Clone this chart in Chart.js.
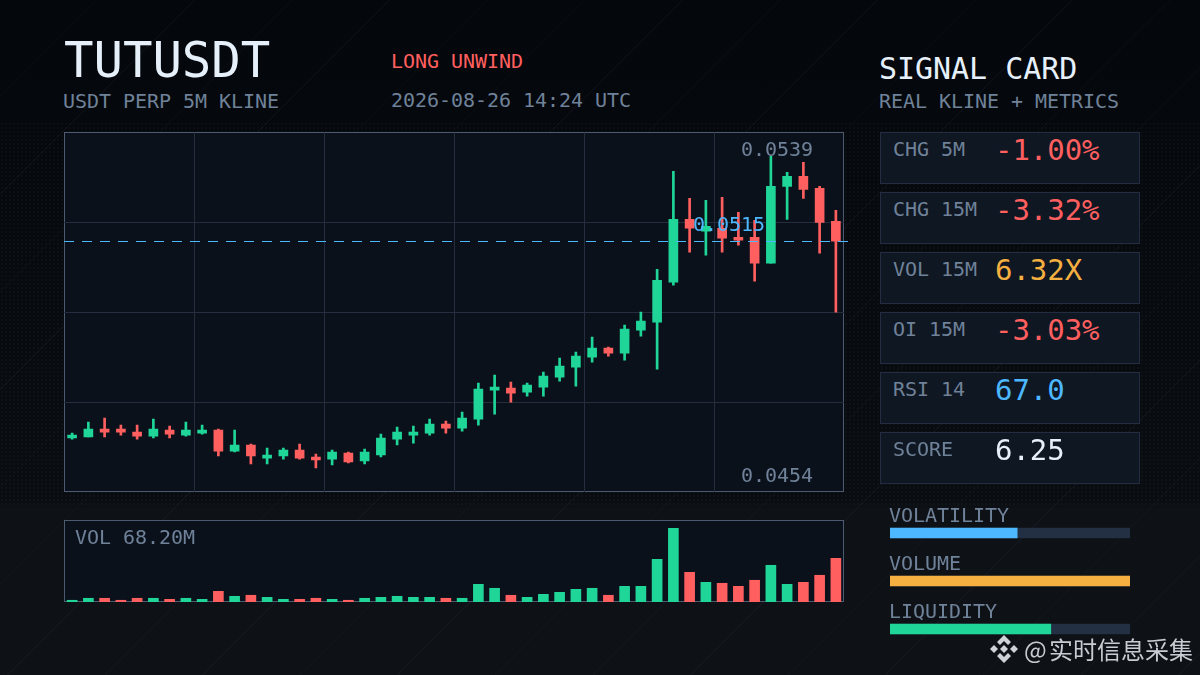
<!DOCTYPE html>
<html>
<head>
<meta charset="utf-8">
<title>TUTUSDT</title>
<script src="https://cdn.jsdelivr.net/npm/chart.js@4"></script>
<style>
  html, body { margin: 0; padding: 0; }
  body { width: 1200px; height: 675px; overflow: hidden; position: relative;
    background: linear-gradient(#04070c 0, #05080d 120px, #090d12 500px, #0e1116 510px, #0e1116 100%); }
  .layer { position: absolute; left: 0; width: 1200px; pointer-events: none; }
  #lines { top: 0; height: 675px;
    background: repeating-linear-gradient(135deg, transparent 0 68px, rgba(150,170,200,.04) 68px 69px); }
  #dots { top: 122px; height: 384px;
    background-image: radial-gradient(rgba(255,255,255,.025) 0.8px, transparent 1px);
    background-size: 4px 4px; }
  .t { position: absolute; font-family: "DejaVu Sans Mono", monospace; white-space: pre; line-height: 1;
    font-size: 20px; letter-spacing: -0.04px; color: #6f8299; z-index: 5; }
  .panel { position: absolute; box-sizing: border-box; background: #0b111b; border: 1px solid #4d5b70; }
  canvas { position: absolute; z-index: 3; }
  .card { position: absolute; left: 880px; width: 260px; height: 52px; box-sizing: border-box;
    background: #0f1722; border: 1px solid #222d3f; }
</style>
</head>
<body>
<div class="layer" id="lines"></div>
<div class="layer" id="dots"></div>

<div class="t" style="left:64px;top:36px;font-size:49px;color:#e6f0fa">TUTUSDT</div>
<div class="t" style="left:63px;top:91px">USDT PERP 5M KLINE</div>
<div class="t" style="left:391px;top:51px;color:#ff5f5f">LONG UNWIND</div>
<div class="t" style="left:391px;top:90px">2026-08-26 14:24 UTC</div>
<div class="t" style="left:879px;top:54px;font-size:30px;color:#e6f0fa">SIGNAL CARD</div>
<div class="t" style="left:879px;top:91px">REAL KLINE + METRICS</div>

<div class="panel" style="left:64px;top:132px;width:780px;height:360px"></div>
<canvas id="priceChart" width="800" height="360" style="left:56px;top:132px;width:800px;height:360px"></canvas>
<div class="t" style="left:741px;top:139px">0.0539</div>
<div class="t" style="left:741px;top:465px">0.0454</div>
<div class="t" style="left:693px;top:214px;color:#4db8ff">0.0515</div>

<div class="panel" style="left:64px;top:520px;width:780px;height:82px"></div>
<canvas id="volChart" width="780" height="82" style="left:64px;top:520px;width:780px;height:82px"></canvas>
<div class="t" style="left:75px;top:527px">VOL 68.20M</div>

<div id="cards"></div>
<canvas id="meterChart" width="240" height="144" style="left:890px;top:509px;width:240px;height:144px"></canvas>
<div id="meterLabels"></div>

<svg style="position:absolute;left:989px;top:634px;z-index:6" width="30" height="30" viewBox="0 0 30 30" fill="#cfd3d8">
  <path d="M15 1l7 7-3 3-4-4-4 4-3-3z"/>
  <path d="M15 29l-7-7 3-3 4 4 4-4 3 3z"/>
  <path d="M5 11l4 4-4 4-4-4z"/>
  <path d="M25 11l4 4-4 4-4-4z"/>
  <path d="M15 11l4 4-4 4-4-4z"/>
</svg>
<div class="t" style="left:1024px;top:637px;font-family:'Noto Sans CJK SC';font-size:24px;color:#c8ccd2;z-index:6">@</div>
<div class="t" style="left:1049px;top:637px;font-family:'Noto Sans CJK SC';font-size:24px;letter-spacing:0;color:#c8ccd2;z-index:6">实时信息采集</div>

<script>
// candles
const openPrice = [0.046235,0.046262,0.046478,0.046478,0.046397,0.046289,0.046451,0.046316,0.046370,0.046451,0.045882,0.046045,
  0.045692,0.045747,0.045909,0.045720,0.045665,0.045828,0.045611,0.045774,0.046207,0.046316,0.046370,0.046614,
  0.046505,0.046749,0.047535,0.047590,0.047481,0.047617,0.047888,0.048159,0.048430,0.048674,0.048538,0.049161,
  0.049378,0.050462,0.052169,0.051844,0.051926,0.051682,0.051682,0.050977,0.053064,0.053335,0.053010,0.052115];
const closePrice = [0.046316,0.046478,0.046397,0.046397,0.046289,0.046478,0.046343,0.046451,0.046451,0.045882,0.046045,0.045747,
  0.045774,0.045909,0.045692,0.045638,0.045855,0.045584,0.045855,0.046235,0.046397,0.046397,0.046614,0.046505,
  0.046777,0.047562,0.047617,0.047454,0.047671,0.047915,0.048186,0.048457,0.048674,0.048538,0.049188,0.049405,
  0.050516,0.052169,0.051926,0.051980,0.051655,0.051600,0.050977,0.053064,0.053335,0.052982,0.052088,0.051573];
const highPrice = [0.046370,0.046668,0.046777,0.046587,0.046587,0.046749,0.046560,0.046668,0.046587,0.046478,0.046451,0.046072,
  0.045964,0.045964,0.046072,0.045801,0.045909,0.045855,0.045936,0.046343,0.046533,0.046560,0.046749,0.046695,
  0.046939,0.047725,0.047942,0.047752,0.047725,0.048023,0.048403,0.048565,0.048972,0.048701,0.049297,0.049649,
  0.050814,0.053470,0.052739,0.052684,0.052766,0.052359,0.052142,0.053877,0.053443,0.053714,0.053064,0.052413];
const lowPrice = [0.046207,0.046262,0.046262,0.046316,0.046207,0.046235,0.046235,0.046289,0.046343,0.045747,0.045855,0.045530,
  0.045530,0.045665,0.045665,0.045421,0.045503,0.045557,0.045530,0.045720,0.046045,0.046099,0.046316,0.046370,
  0.046424,0.046587,0.046885,0.047210,0.047373,0.047373,0.047779,0.047644,0.048294,0.048457,0.048348,0.048999,
  0.048104,0.050381,0.051275,0.051194,0.051275,0.051465,0.050489,0.050977,0.052169,0.052739,0.051248,0.049649];
// volume in millions
const volume = [2.7,5.8,5.8,2.7,5.8,5.8,4.2,5.8,4.2,16.7,8.9,10.5,
  7.3,4.2,4.2,5.8,4.2,2.7,5.8,7.3,8.9,7.3,7.3,5.8,
  5.8,27.6,21.4,10.5,7.3,12,15.1,19.8,21.4,10.5,24.5,24.5,
  66.6,115,46.3,30.7,29.2,24.5,33.9,57.3,27.6,30.7,41.7,68.2];
const lastPrice = 0.051573;

const cardLabels = ['CHG 5M', 'CHG 15M', 'VOL 15M', 'OI 15M', 'RSI 14', 'SCORE'];
const cardValues = ['-1.00%', '-3.32%', '6.32X', '-3.03%', '67.0', '6.25'];
const cardColors = ['#ff5f5f', '#ff5f5f', '#f5b041', '#ff5f5f', '#4db8ff', '#e6f0fa'];

const meterLabels = ['VOLATILITY', 'VOLUME', 'LIQUIDITY'];
const meterValues = [0.53, 1, 0.67];
const meterColors = ['#4db8ff', '#f5b041', '#1fd698'];

const GREEN = '#1fd698';
const RED = '#ff5f5f';
const GRID = '#252e3f';

const categories = openPrice.map((_, i) => i + 1);
const candleColors = closePrice.map((c, i) => c >= openPrice[i] ? GREEN : RED);

Chart.defaults.animation = false;
Chart.defaults.devicePixelRatio = 1;

// cards + meter captions
const cardsBox = document.getElementById('cards');
cardLabels.forEach((label, i) => {
  const top = 132 + i * 60;
  cardsBox.innerHTML += `<div class="card" style="top:${top}px"></div>
    <div class="t" style="left:893px;top:${top + 7}px">${label}</div>
    <div class="t" style="left:995px;top:${top + 4}px;font-size:29px;color:${cardColors[i]}">${cardValues[i]}</div>`;
});
document.getElementById('meterLabels').innerHTML = meterLabels.map((label, i) =>
  `<div class="t" style="left:889px;top:${505 + i * 48}px">${label}</div>`).join('');

// dashed last price line, sits above the candles
const lastPriceLine = {
  id: 'lastPriceLine',
  afterDatasetsDraw(chart) {
    const y = Math.round(chart.scales.y.getPixelForValue(lastPrice)) + 0.5;
    const c = chart.ctx;
    c.save();
    c.strokeStyle = '#4db8ff';
    c.lineWidth = 1;
    c.setLineDash([10, 8]);
    c.beginPath();
    c.moveTo(chart.chartArea.left, y);
    c.lineTo(chart.chartArea.right + 4, y);
    c.stroke();
    c.restore();
  }
};

new Chart(document.getElementById('priceChart'), {
  type: 'bar',
  data: {
    labels: categories,
    datasets: [
      { label: 'wick', data: lowPrice.map((l, i) => [l, highPrice[i]]), backgroundColor: candleColors,
        barThickness: 2, grouped: false, borderWidth: 0, order: 2 },
      { label: 'body', data: openPrice.map((o, i) => [o, closePrice[i]]), backgroundColor: candleColors,
        barThickness: 9, grouped: false, borderWidth: 0, order: 1 }
    ]
  },
  options: {
    responsive: false,
    layout: { padding: { left: 8, right: 12, top: 0.4, bottom: 0 } },
    plugins: { legend: { display: false }, tooltip: { enabled: false } },
    scales: {
      x: { type: 'category', offset: true, display: false },
      gx: { axis: 'x', type: 'linear', min: 0, max: 48, position: 'bottom', offset: false,
        ticks: { display: false, stepSize: 8 },
        border: { display: false },
        grid: { offset: false, drawTicks: false, color: c => (c.index > 0 && c.index < 6) ? GRID : 'transparent' } },
      y: { type: 'linear', min: 0.044771, max: 0.054527,
        ticks: { display: false, count: 5 },
        border: { display: false },
        grid: { drawTicks: false, color: c => (c.index > 0 && c.index < 4) ? GRID : 'transparent' } }
    }
  },
  plugins: [lastPriceLine]
});

new Chart(document.getElementById('volChart'), {
  type: 'bar',
  data: {
    labels: categories,
    datasets: [{ label: 'volume', data: volume, backgroundColor: candleColors, barThickness: 10, borderWidth: 0 }]
  },
  options: {
    responsive: false,
    plugins: { legend: { display: false }, tooltip: { enabled: false } },
    scales: {
      x: { display: false, offset: true },
      y: { display: false, min: 0, max: 128 }
    }
  }
});

new Chart(document.getElementById('meterChart'), {
  type: 'bar',
  data: {
    labels: meterLabels,
    datasets: [
      { label: 'level', data: meterValues, backgroundColor: meterColors, barThickness: 10, grouped: false, borderWidth: 0, order: 1 },
      { label: 'track', data: meterLabels.map(() => 1), backgroundColor: '#232f42', barThickness: 10, grouped: false, borderWidth: 0, order: 2 }
    ]
  },
  options: {
    indexAxis: 'y',
    responsive: false,
    plugins: { legend: { display: false }, tooltip: { enabled: false } },
    scales: {
      x: { display: false, min: 0, max: 1 },
      y: { display: false }
    }
  }
});
</script>
</body>
</html>
